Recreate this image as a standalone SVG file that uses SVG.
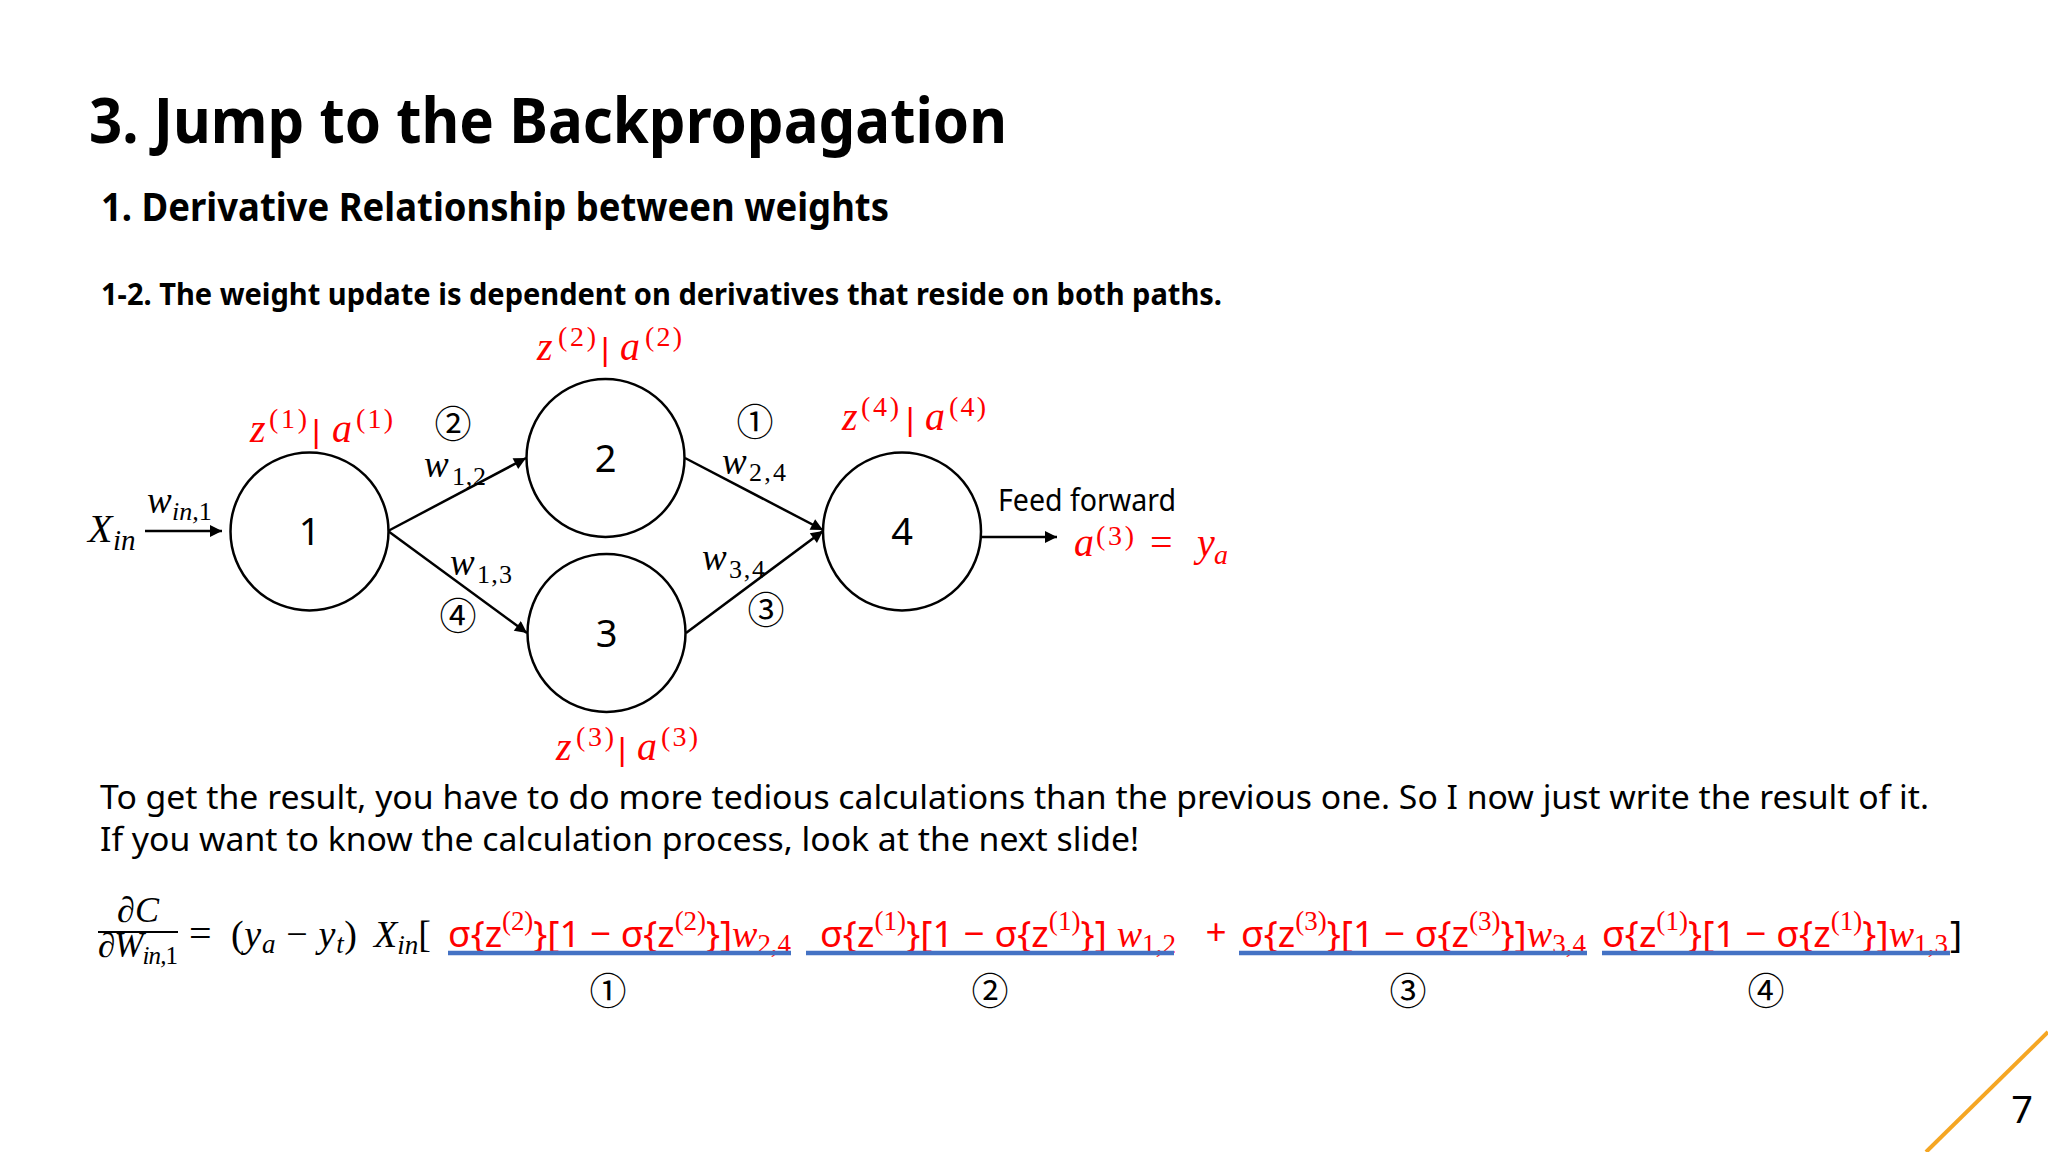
<svg xmlns="http://www.w3.org/2000/svg" width="2048" height="1152" viewBox="0 0 2048 1152">
<defs>
<marker id="ah" viewBox="0 0 10 10" refX="10" refY="5" markerWidth="15" markerHeight="12" markerUnits="userSpaceOnUse" orient="auto"><path d="M0,0 L10,5 L0,10 z" fill="#000"/></marker>
<style>
.h{font-family:"Noto Sans","Open Sans",sans-serif;fill:#000}
.b{font-weight:bold}
.node circle{fill:#fff;stroke:#000;stroke-width:2.5}
.node text{font-family:"Noto Sans","Open Sans",sans-serif;font-size:38px;text-anchor:middle;fill:#000}
.edge{stroke:#000;stroke-width:2.5;fill:none;marker-end:url(#ah)}
.m{font-family:"Liberation Serif","DejaVu Serif",serif;font-style:italic;fill:#000}
.up{font-style:normal}
.red{fill:#FF0000}
.lab{font-size:40px}
.sup{font-size:28px;font-style:normal}
.bar{font-family:"Liberation Sans",sans-serif;font-size:32px;font-style:normal}
.wl{font-size:37px}
.ws{font-size:26px;font-style:normal}
.circ{font-family:"Noto Sans CJK KR","Noto Sans CJK JP",sans-serif;font-size:37px;text-anchor:middle;fill:#000}
.uline{stroke:#4472C4;stroke-width:4.5}
.eqs{font-family:"Noto Sans","Open Sans",sans-serif;font-size:37px;fill:#FF0000}
.es{font-family:"Liberation Serif",serif;font-size:27px;font-style:normal}
.ew{font-family:"Liberation Serif",serif;font-size:38px;font-style:italic}
</style>
</defs>
<rect width="2048" height="1152" fill="#fff"/>

<g id="headings">
<text x="89" y="143" class="h b" font-size="62" textLength="918" lengthAdjust="spacingAndGlyphs">3. Jump to the Backpropagation</text>
<text x="101" y="221" class="h b" font-size="40" textLength="788" lengthAdjust="spacingAndGlyphs">1. Derivative Relationship between weights</text>
<text x="101" y="305" class="h b" font-size="31" textLength="1121" lengthAdjust="spacingAndGlyphs">1-2. The weight update is dependent on derivatives that reside on both paths.</text>
</g>

<g id="connectors">
<line class="edge" x1="145" y1="531" x2="222" y2="531"/>
<line class="edge" x1="388" y1="531" x2="526" y2="458"/>
<line class="edge" x1="388" y1="531" x2="527" y2="633"/>
<line class="edge" x1="685" y1="458" x2="823" y2="530"/>
<line class="edge" x1="686" y1="633" x2="823" y2="531"/>
<line class="edge" x1="981" y1="537" x2="1057" y2="537"/>
</g>

<g id="node-1" class="node"><circle cx="309.5" cy="531.5" r="79"/><text x="309.5" y="545">1</text></g>
<g id="node-2" class="node"><circle cx="605.5" cy="458" r="79"/><text x="605.5" y="472">2</text></g>
<g id="node-3" class="node"><circle cx="606.5" cy="633" r="79"/><text x="606.5" y="647">3</text></g>
<g id="node-4" class="node"><circle cx="902" cy="531.5" r="79"/><text x="902" y="545">4</text></g>

<g id="edge-labels">
<text class="m" font-size="40" y="542"><tspan x="88">X</tspan><tspan x="113" y="550" font-size="29">in</tspan></text>
<text class="m wl" y="513"><tspan x="147">w</tspan><tspan x="172" y="520" font-size="26">in,</tspan><tspan class="up" font-size="26">1</tspan></text>
<text class="m wl" y="477"><tspan x="424">w</tspan><tspan class="ws" x="452" y="485" textLength="34">1,2</tspan></text>
<text class="m wl" y="474"><tspan x="722">w</tspan><tspan class="ws" x="749" y="481" textLength="37">2,4</tspan></text>
<text class="m wl" y="570"><tspan x="702">w</tspan><tspan class="ws" x="729" y="578" textLength="36">3,4</tspan></text>
<text class="m wl" y="575"><tspan x="450">w</tspan><tspan class="ws" x="477" y="583" textLength="35">1,3</tspan></text>
<text class="circ" x="453" y="437.5">②</text>
<text class="circ" x="755" y="435.5">①</text>
<text class="circ" x="766" y="624">③</text>
<text class="circ" x="458" y="629.5">④</text>
<text x="998" y="511" class="h" font-size="30" textLength="178" lengthAdjust="spacingAndGlyphs">Feed forward</text>
</g>

<g id="activation-labels" class="red">
<text class="m red lab" y="442"><tspan x="250">z</tspan><tspan class="sup" x="269" y="428" textLength="38">(1)</tspan><tspan class="bar" x="312" y="442">|</tspan><tspan x="332">a</tspan><tspan class="sup" x="356" y="428" textLength="37">(1)</tspan></text>
<text class="m red lab" y="360"><tspan x="537">z</tspan><tspan class="sup" x="558" y="346" textLength="38">(2)</tspan><tspan class="bar" x="601" y="360">|</tspan><tspan x="620">a</tspan><tspan class="sup" x="645" y="346" textLength="37">(2)</tspan></text>
<text class="m red lab" y="760"><tspan x="556">z</tspan><tspan class="sup" x="576" y="746" textLength="38">(3)</tspan><tspan class="bar" x="618" y="760">|</tspan><tspan x="637">a</tspan><tspan class="sup" x="661" y="746" textLength="37">(3)</tspan></text>
<text class="m red lab" y="430"><tspan x="842">z</tspan><tspan class="sup" x="861" y="416" textLength="38">(4)</tspan><tspan class="bar" x="906" y="430">|</tspan><tspan x="925">a</tspan><tspan class="sup" x="949" y="416" textLength="37">(4)</tspan></text>
<text class="m red lab" y="556"><tspan x="1074">a</tspan><tspan class="sup" x="1096" y="545" textLength="38">(3)</tspan><tspan class="up" x="1150" y="556">=</tspan><tspan x="1197">y</tspan><tspan x="1214" y="564" font-size="28">a</tspan></text>
</g>

<g id="paragraph">
<text x="100" y="809" class="h" font-size="32" textLength="1829" lengthAdjust="spacingAndGlyphs">To get the result, you have to do more tedious calculations than the previous one. So I now just write the result of it.</text>
<text x="100" y="851" class="h" font-size="32" textLength="1039" lengthAdjust="spacingAndGlyphs">If you want to know the calculation process, look at the next slide!</text>
</g>

<g id="equation">
<text x="138" y="922" class="m" font-size="36" text-anchor="middle">∂C</text>
<line x1="98" y1="932" x2="178" y2="932" stroke="#000" stroke-width="2"/>
<text x="98" y="957" class="m" font-size="35" textLength="80">∂W<tspan font-size="25" dy="7">in,</tspan><tspan class="up" font-size="25">1</tspan></text>
<text x="189" y="947" class="m up" font-size="40">=</text>
<text x="231" y="947" class="m" font-size="38" textLength="126"><tspan class="up">(</tspan>y<tspan font-size="27" dy="6">a</tspan><tspan class="up" dy="-6"> − </tspan>y<tspan font-size="27" dy="6">t</tspan><tspan class="up" dy="-6">)</tspan></text>
<text x="374" y="947" class="m" font-size="38">X<tspan font-size="27" dy="7">in</tspan><tspan class="up" dy="-7">[</tspan></text>

<text x="448" y="947" class="eqs" textLength="343">σ{z<tspan class="es" dy="-17">(2)</tspan><tspan dy="17">}[1 − σ{z</tspan><tspan class="es" dy="-17">(2)</tspan><tspan dy="17">}]</tspan><tspan class="ew">w</tspan><tspan class="es" dy="6">2,4</tspan></text>
<text x="820" y="947" class="eqs" textLength="356">σ{z<tspan class="es" dy="-17">(1)</tspan><tspan dy="17">}[1 − σ{z</tspan><tspan class="es" dy="-17">(1)</tspan><tspan dy="17">}] </tspan><tspan class="ew">w</tspan><tspan class="es" dy="6">1,2</tspan></text>
<text x="1216" y="945" class="eqs" text-anchor="middle">+</text>
<text x="1241" y="947" class="eqs" textLength="345">σ{z<tspan class="es" dy="-17">(3)</tspan><tspan dy="17">}[1 − σ{z</tspan><tspan class="es" dy="-17">(3)</tspan><tspan dy="17">}]</tspan><tspan class="ew">w</tspan><tspan class="es" dy="6">3,4</tspan></text>
<text x="1602" y="947" class="eqs" textLength="346">σ{z<tspan class="es" dy="-17">(1)</tspan><tspan dy="17">}[1 − σ{z</tspan><tspan class="es" dy="-17">(1)</tspan><tspan dy="17">}]</tspan><tspan class="ew">w</tspan><tspan class="es" dy="6">1,3</tspan></text>
<text x="1950" y="947" class="eqs" style="fill:#000">]</text>

<line class="uline" x1="448" y1="953" x2="791" y2="953"/>
<line class="uline" x1="806" y1="953" x2="1174" y2="953"/>
<line class="uline" x1="1239" y1="953" x2="1587" y2="953"/>
<line class="uline" x1="1602" y1="953" x2="1950" y2="953"/>

<text class="circ" x="608" y="1004.5">①</text>
<text class="circ" x="990" y="1004.5">②</text>
<text class="circ" x="1408" y="1004.5">③</text>
<text class="circ" x="1766" y="1004.5">④</text>
</g>

<g id="footer">
<line x1="2048" y1="1032" x2="1926" y2="1152" stroke="#F5A623" stroke-width="4"/>
<text x="2022" y="1123" class="h" font-size="38" text-anchor="middle">7</text>
</g>
</svg>
